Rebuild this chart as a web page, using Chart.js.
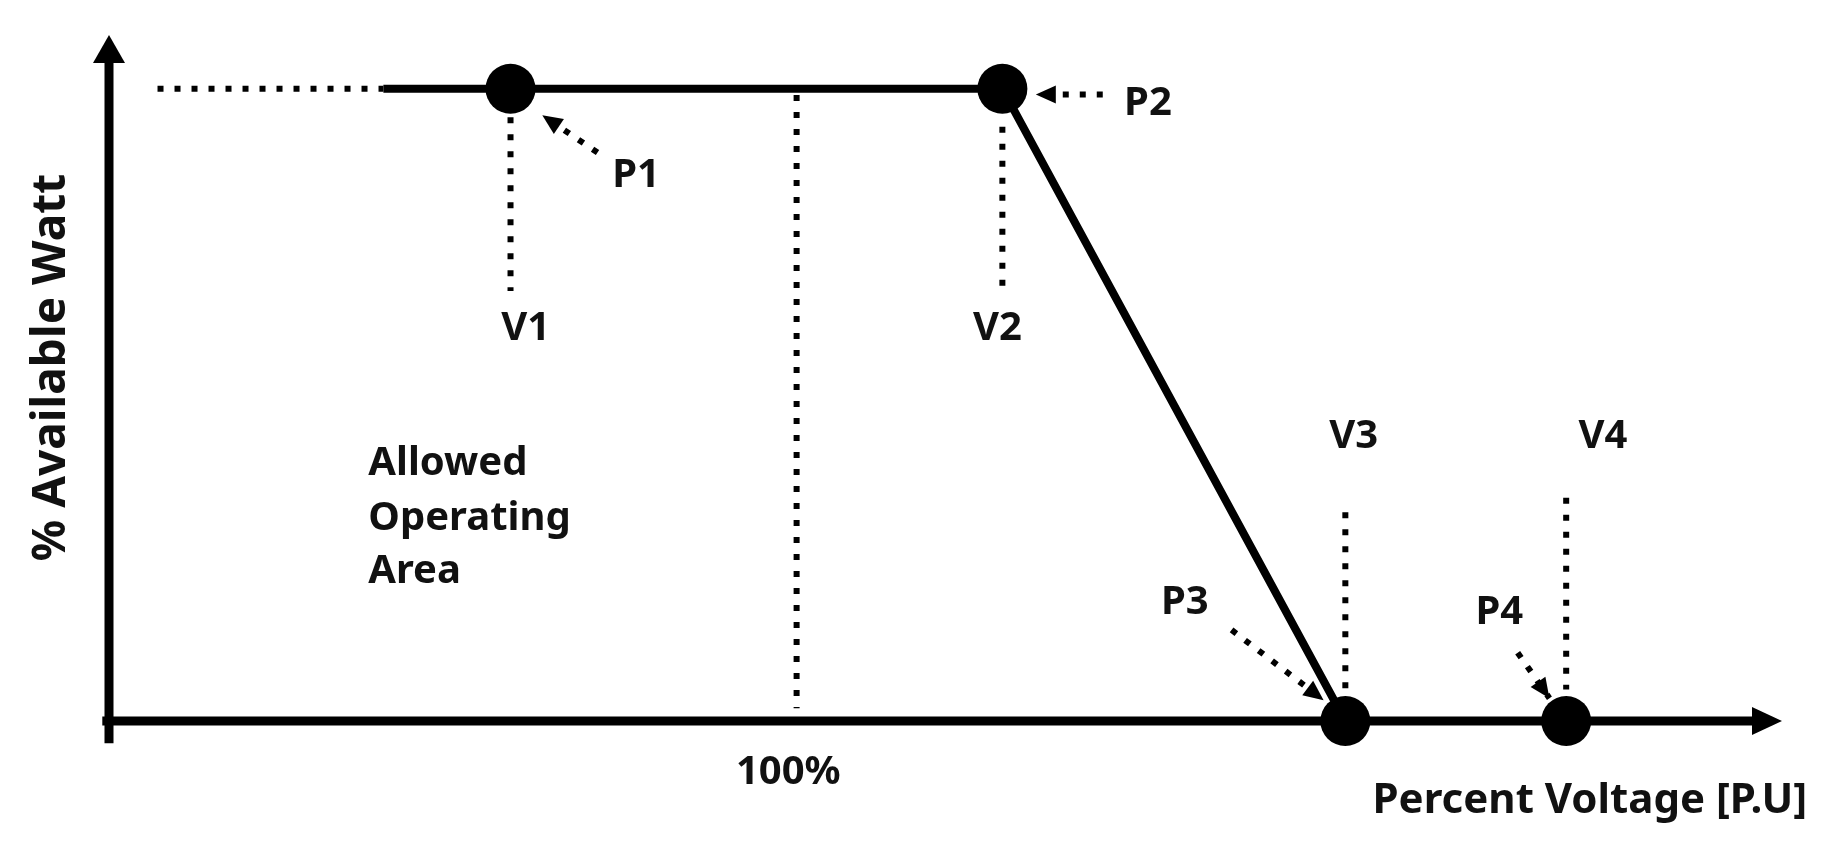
<!DOCTYPE html>
<html>
<head>
<meta charset="utf-8">
<title>Volt-Watt curve</title>
<script src="https://cdn.jsdelivr.net/npm/chart.js@4.4.1/dist/chart.umd.min.js"></script>
<style>
  html, body { margin: 0; padding: 0; background: #fff; }
  #wrap { width: 1832px; height: 847px; position: relative; }
</style>
</head>
<body>
<div id="wrap"><canvas id="voltWatt"></canvas></div>
<script>
// schematic units: x = percent voltage (0..100 across the axis), y = % available watt
const pointNames = ["P1", "P2", "P3", "P4"];
const pointVolt = [24.0, 53.4, 73.9, 87.1];
const pointWatt = [100, 100, 0, 0];

// the flat part starts dotted then goes solid
const flatDottedFrom = 2.9;
const flatSolidFrom = 16.4;

// the 100% line
const nominalVolt = 41.1;
const nominalTop = 99;
const nominalBottom = 2;

// V marks above / below each point
const guideNames = ["V1", "V2", "V3", "V4"];
const guideFrom = [95.5, 94, 33, 35.3];
const guideTo = [68, 68, 5, 5];
const guideLabelX = [24.9, 53.1, 74.4, 89.3];
const guideLabelY = [62, 62, 45, 45];

// pointer arrows to the points
const arrowTailX = [29.2, 59.4, 67.1, 84.2];
const arrowTailY = [89.9, 99.1, 14.4, 10.8];
const arrowTipX = [25.9, 55.4, 72.6, 86.1];
const arrowTipY = [95.8, 99.1, 3.3, 3.6];
const pointLabelX = [31.5, 62.1, 64.3, 83.1];
const pointLabelY = [86.2, 97.6, 18.8, 17.2];

const areaLines = ["Allowed", "Operating", "Area"];
const areaX = 15.5;
const areaY = [38.9, 30.2, 21.8];

const xTitle = "Percent Voltage [P.U]";
const yTitle = "% Available Watt";
const nominalLabel = "100%";

const FAMILY = "'Noto Sans', Lato, sans-serif";
const DOTS = [6, 11];

function dotted(from, to) {
  return {
    data: [from, to],
    showLine: true,
    borderColor: "#000",
    borderWidth: 6,
    borderDash: DOTS,
    pointRadius: 0,
    clip: false,
  };
}

const datasets = [];

// flat dotted lead-in
datasets.push(dotted({ x: flatDottedFrom, y: pointWatt[0] }, { x: flatSolidFrom, y: pointWatt[0] }));

// solid curve
datasets.push({
  data: [
    { x: flatSolidFrom, y: pointWatt[0] },
    { x: pointVolt[1], y: pointWatt[1] },
    { x: pointVolt[2], y: pointWatt[2] },
  ],
  showLine: true,
  borderColor: "#000",
  borderWidth: 8,
  pointRadius: 0,
  clip: false,
});

// 100% line
datasets.push(dotted({ x: nominalVolt, y: nominalTop }, { x: nominalVolt, y: nominalBottom }));

// V guides
guideNames.forEach((n, i) => {
  datasets.push(dotted({ x: pointVolt[i], y: guideFrom[i] }, { x: pointVolt[i], y: guideTo[i] }));
});

// pointer arrows
pointNames.forEach((n, i) => {
  const ds = dotted({ x: arrowTailX[i], y: arrowTailY[i] }, { x: arrowTipX[i], y: arrowTipY[i] });
  ds.arrow = true;
  datasets.push(ds);
});

// the four points
datasets.push({
  data: pointVolt.map((v, i) => ({ x: v, y: pointWatt[i] })),
  showLine: false,
  pointRadius: 25,
  pointBackgroundColor: "#000",
  pointBorderWidth: 0,
  clip: false,
});

function head(ctx, x0, y0, x1, y1, len, wid) {
  const a = Math.atan2(y1 - y0, x1 - x0);
  ctx.save();
  ctx.translate(x1, y1);
  ctx.rotate(a);
  ctx.beginPath();
  ctx.moveTo(0, 0);
  ctx.lineTo(-len, wid / 2);
  ctx.lineTo(-len, -wid / 2);
  ctx.closePath();
  ctx.fillStyle = "#000";
  ctx.fill();
  ctx.restore();
}

const axesPlugin = {
  id: "axesArrows",
  beforeDatasetsDraw(chart) {
    const { ctx, scales: { x, y } } = chart;
    ctx.save();
    ctx.strokeStyle = "#000";
    ctx.lineWidth = 9;
    ctx.lineCap = "butt";
    const x0 = x.getPixelForValue(0);
    const y0 = y.getPixelForValue(0);
    const yTop = y.getPixelForValue(y.max);
    const xEnd = x.getPixelForValue(x.max);
    // y axis
    ctx.beginPath();
    ctx.moveTo(x0, y.getPixelForValue(-3.5));
    ctx.lineTo(x0, yTop + 20);
    ctx.stroke();
    head(ctx, x0, yTop + 30, x0, yTop, 28, 32);
    // x axis
    ctx.beginPath();
    ctx.moveTo(x.getPixelForValue(-0.4), y0);
    ctx.lineTo(xEnd - 20, y0);
    ctx.stroke();
    head(ctx, xEnd - 30, y0, xEnd, y0, 30, 28);
    ctx.restore();
  },
  afterDatasetsDraw(chart) {
    const ctx = chart.ctx;
    chart.data.datasets.forEach((ds, i) => {
      if (!ds.arrow) return;
      const pts = chart.getDatasetMeta(i).data;
      head(ctx, pts[0].x, pts[0].y, pts[1].x, pts[1].y, 20, 18);
    });
  },
  afterDraw(chart) {
    const { ctx, scales: { x, y } } = chart;
    ctx.save();
    ctx.fillStyle = "#111";
    ctx.font = "bold 40px " + FAMILY;
    ctx.textBaseline = "middle";
    ctx.textAlign = "center";
    guideNames.forEach((n, i) => {
      ctx.fillText(n, x.getPixelForValue(guideLabelX[i]), y.getPixelForValue(guideLabelY[i]));
    });
    pointNames.forEach((n, i) => {
      ctx.fillText(n, x.getPixelForValue(pointLabelX[i]), y.getPixelForValue(pointLabelY[i]));
    });
    ctx.fillText(nominalLabel, x.getPixelForValue(nominalVolt - 0.5), y.getPixelForValue(-8.1));

    ctx.textAlign = "left";
    ctx.textBaseline = "alphabetic";
    areaLines.forEach((t, i) => {
      ctx.fillText(t, x.getPixelForValue(areaX), y.getPixelForValue(areaY[i]));
    });

    ctx.font = "bold 42px " + FAMILY;
    ctx.textAlign = "right";
    ctx.fillText(xTitle, x.getPixelForValue(101.5), y.getPixelForValue(-14.5));

    ctx.save();
    ctx.font = "bold 46px " + FAMILY;
    ctx.translate(x.getPixelForValue(-3.4), y.getPixelForValue(55.9));
    ctx.rotate(-Math.PI / 2);
    ctx.textAlign = "center";
    ctx.textBaseline = "middle";
    ctx.fillText(yTitle, 0, 0);
    ctx.restore();
    ctx.restore();
  },
};

new Chart("voltWatt", {
  type: "scatter",
  data: { datasets },
  options: {
    responsive: true,
    maintainAspectRatio: false,
    animation: false,
    layout: { padding: { left: 109, right: 50, top: 35, bottom: 126 } },
    scales: {
      x: { type: "linear", min: 0, max: 100, display: false },
      y: { type: "linear", min: 0, max: 108.5, display: false },
    },
    plugins: {
      legend: { display: false },
      tooltip: { enabled: false },
    },
    elements: { line: { tension: 0 } },
  },
  plugins: [axesPlugin],
});
</script>
</body>
</html>
